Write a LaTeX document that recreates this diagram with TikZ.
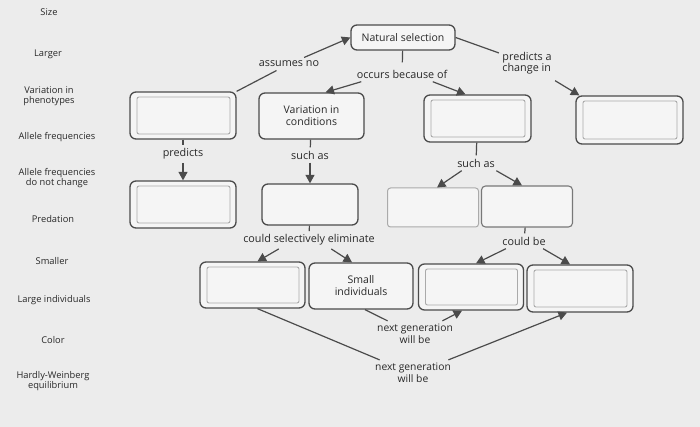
\documentclass[tikz,border=0pt]{standalone}
\usepackage{fontspec}
\setmainfont{Open Sans}
\usepackage{tikz}
\usetikzlibrary{positioning}
\usetikzlibrary{arrows.meta}
\definecolor{bg}{RGB}{236,236,236}
\definecolor{ink}{RGB}{40,40,40}
\definecolor{rim}{RGB}{75,75,75}
\definecolor{inrim}{RGB}{170,170,170}
\tikzset{
	box/.style={draw=rim,line width=1.3pt,rounded corners=6pt,fill=bg!50!white,minimum width=105pt,minimum height=46pt,align=center,text=ink,font=\fontsize{10.5}{12}\selectfont},
	blank/.style={box,path picture={\draw[inrim,line width=0.9pt,rounded corners=2pt] ([shift={(7pt,-5pt)}]path picture bounding box.north west) rectangle ([shift={(-6pt,5pt)}]path picture bounding box.south east);}},
	link/.style={text=ink,align=center,font=\fontsize{10.8}{11.5}\selectfont},
	word/.style={text=ink,align=center,font=\fontsize{9.3}{10.5}\selectfont},
	wire/.style={draw=rim,line width=1.2pt},
	arr/.style={wire,-{Triangle[length=8.5pt,width=9pt]}}
}
\begin{document}
\begin{tikzpicture}[x=1pt,y=-1pt]
	
	\fill[bg] (0,0) rectangle (700,427);
	
	% word bank
	\node[word] (wsize) at (49,12) {Size};
	\node[word] (wlarger) at (48,54) {Larger};
	\node[word] (wvarpheno) at (49,96) {Variation in\\phenotypes};
	\node[word] (wallele) at (57,137) {Allele frequencies};
	\node[word] (wnochange) at (57,178) {Allele frequencies\\do not change};
	\node[word] (wpred) at (53,219) {Predation};
	\node[word] (wsmaller) at (52,261) {Smaller};
	\node[word] (wlarge) at (54,300) {Large individuals};
	\node[word] (wcolor) at (53,340) {Color};
	\node[word] (whw) at (53,381) {Hardly-Weinberg\\equilibrium};
	
	% concepts
	\node[box,minimum width=104pt,minimum height=25pt] (ns) at (403,37.5) {Natural selection};
	\node[blank,minimum width=106pt,minimum height=47pt] (boxa) at (183,115.5) {};
	\node[box] (vc) at (311.5,116) {Variation in\\conditions};
	\node[blank,minimum width=107pt,minimum height=47pt] (boxb) at (477.5,118.5) {};
	\node[blank,minimum width=107pt,minimum height=48pt] (boxc) at (629.5,120) {};
	
	\node[blank,minimum width=106pt,minimum height=47pt] (boxd) at (183,204.5) {};
	\node[box,minimum width=96pt,minimum height=41pt] (boxe) at (310,204.5) {};
	\node[box,draw=inrim,line width=1pt,rounded corners=3pt,minimum width=91pt,minimum height=39pt] (boxf) at (433,207.5) {};
	\node[box,draw=rim!75,line width=1.1pt,rounded corners=4pt,minimum width=91pt,minimum height=41pt] (boxg) at (527,206.5) {};
	
	\node[blank] (boxh) at (252.5,285) {};
	\node[box,minimum width=104pt] (si) at (361,286) {Small\\individuals};
	\node[blank] (boxi) at (471,287) {};
	\node[blank,minimum width=106pt,minimum height=47pt] (boxj) at (580,288.5) {};
	
	% linking words
	\node[link] (asn) at (289,64) {assumes no};
	\node[link] (occ) at (402,74) {occurs because of};
	\node[link,align=left] (pac) at (527,63) {predicts a\\change in};
	\node[link] (prd) at (183,154) {predicts};
	\node[link] (sa1) at (310,155) {such as};
	\node[link] (sa2) at (476,163) {such as};
	\node[link] (cse) at (309,240) {could selectively eliminate};
	\node[link] (cb) at (524,241) {could be};
	\node[link,font=\fontsize{10.3}{11.5}\selectfont] (ng1) at (415,334) {next generation\\will be};
	\node[link,font=\fontsize{10.3}{11.5}\selectfont] (ng2) at (413,373) {next generation\\will be};
	
	%connections
	\draw[wire] (boxa.north east) -- (asn);
	\draw[arr] (asn) -- (ns.west);
	
	\draw[wire,shorten >=4pt] (ns) -- (occ);
	\draw[arr] ([xshift=8pt]occ.south west) -- ([xshift=14pt]vc.north);
	\draw[arr] ([xshift=-18pt]occ.south east) -- ([xshift=-12pt]boxb.north);
	
	\draw[wire] (ns.east) -- (pac);
	\draw[arr] ([yshift=-3pt]pac.south east) -- ([xshift=4pt]boxc.north west);
	
	\draw[wire] (boxa) -- (prd);
	\draw[arr] (prd) -- (boxd);
	
	\draw[wire] (vc) -- (sa1);
	\draw[arr] (sa1) -- (boxe);
	
	\draw[wire] (boxb) -- (sa2);
	\draw[arr] ([xshift=8pt]sa2.south west) -- ([xshift=4pt]boxf.north);
	\draw[arr] ([xshift=-2pt]sa2.south east) -- ([xshift=-5pt]boxg.north);
	
	\draw[wire] (boxe) -- (cse);
	\draw[arr] ([xshift=39pt]cse.south west) -- ([xshift=5pt]boxh.north);
	\draw[arr] ([xshift=-47pt]cse.south east) -- ([xshift=-9pt]si.north);
	
	\draw[wire] (boxg) -- (cb);
	\draw[arr] ([xshift=7pt]cb.south west) -- ([xshift=5pt]boxi.north);
	\draw[arr] ([xshift=-6pt]cb.south east) -- ([xshift=-10pt]boxj.north);
	
	\draw[wire] ([xshift=4pt]si.south) -- ([xshift=14pt]ng1.north west);
	\draw[arr] ([xshift=-14pt]ng1.north east) -- ([xshift=-9pt]boxi.south);
	
	\draw[wire] ([xshift=5pt]boxh.south) -- ([xshift=8pt]ng2.north west);
	\draw[arr] ([xshift=-6pt]ng2.north east) -- ([xshift=-13pt]boxj.south);
	
\end{tikzpicture}
\end{document}
